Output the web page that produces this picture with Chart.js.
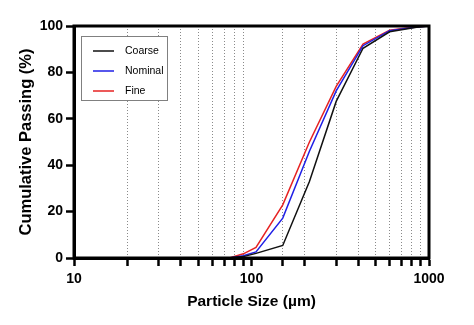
<!DOCTYPE html>
<html>
<head>
<meta charset="utf-8">
<script src="https://cdn.jsdelivr.net/npm/chart.js@4/dist/chart.umd.min.js"></script>
<style>
  html, body { margin: 0; padding: 0; background: #fff; }
  #wrap { width: 474px; height: 325px; position: relative; }
</style>
</head>
<body>
<div id="wrap"><canvas id="psdChart"></canvas></div>
<script>
// sieve sizes (µm) and cumulative passing (%)
const sizes   = [75, 90, 106, 150, 212, 300, 425, 600, 850, 1000];
const coarse  = [0, 0.6, 2.0, 5.4, 33, 67.5, 90.4, 97.5, 99.5, 100];
const nominal = [0, 1.0, 2.6, 17.2, 46, 72, 91.5, 98, 99.6, 100];
const fine    = [0, 1.8, 4.6, 22.9, 50, 74, 92.2, 98.2, 99.7, 100];

const seriesNames = ['Coarse', 'Nominal', 'Fine'];
const seriesColors = ['#111111', '#1f1fe6', '#e62222'];
const xLabels = [10, 100, 1000];
const yTicks = [0, 20, 40, 60, 80, 100];

const FONT = "'Liberation Sans', Arial, sans-serif";

function toPoints(vals) {
    return sizes.map((s, i) => ({ x: s, y: vals[i] }));
}

// frame on top of the lines + legend box inside the plot
const framePlugin = {
    id: 'frame',
    afterDatasetsDraw(chart) {
        const { ctx, chartArea: a } = chart;
        ctx.save();
        ctx.strokeStyle = '#000';
        ctx.lineWidth = 3;
        ctx.strokeRect(a.left, a.top, a.right - a.left, a.bottom - a.top);
        ctx.restore();
    },
    afterDraw(chart) {
        const ctx = chart.ctx;
        const bx = 81.5, by = 36.5, bw = 86, bh = 64;
        ctx.save();
        ctx.fillStyle = '#fff';
        ctx.fillRect(bx, by, bw, bh);
        ctx.strokeStyle = '#808080';
        ctx.lineWidth = 1;
        ctx.strokeRect(bx, by, bw, bh);
        ctx.font = '10.5px ' + FONT;
        ctx.textBaseline = 'middle';
        ctx.fillStyle = '#000';
        chart.data.datasets.forEach((ds, i) => {
            const y = 51 + i * 20;
            ctx.strokeStyle = ds.borderColor;
            ctx.lineWidth = 1.5;
            ctx.beginPath();
            ctx.moveTo(93, y);
            ctx.lineTo(114, y);
            ctx.stroke();
            ctx.fillText(ds.label, 125, y);
        });
        ctx.restore();
    }
};

const datasets = [coarse, nominal, fine].map((vals, i) => ({
    label: seriesNames[i],
    data: toPoints(vals),
    borderColor: seriesColors[i],
    backgroundColor: seriesColors[i],
    borderWidth: 1.5,
    pointRadius: 0,
    tension: 0,
    fill: false
}));

new Chart(document.getElementById('psdChart'), {
    type: 'line',
    data: { datasets: datasets },
    plugins: [framePlugin],
    options: {
        responsive: true,
        maintainAspectRatio: false,
        animation: false,
        layout: { padding: { top: 26, right: 45, left: 0, bottom: 0 } },
        plugins: {
            legend: { display: false },
            tooltip: { enabled: false }
        },
        scales: {
            x: {
                type: 'logarithmic',
                min: 10,
                max: 1000,
                afterFit(scale) { scale.height = 67; },
                border: { display: true, color: '#000', width: 3, dash: [1, 2] },
                grid: {
                    color: ctx => (ctx.tick && xLabels.includes(ctx.tick.value)) ? 'rgba(0,0,0,0)' : '#8a8a8a',
                    lineWidth: 1,
                    drawTicks: true,
                    tickLength: 8,
                    tickWidth: 2.5,
                    tickColor: '#000'
                },
                ticks: {
                    autoSkip: false,
                    maxRotation: 0,
                    padding: 5,
                    color: '#000',
                    font: { family: FONT, size: 14, weight: 'bold' },
                    callback: v => xLabels.includes(v) ? String(v) : ''
                },
                title: {
                    display: true,
                    text: 'Particle Size (µm)',
                    color: '#000',
                    font: { family: FONT, size: 15.5, weight: 'bold' },
                    padding: { top: 0, bottom: 14 }
                }
            },
            y: {
                type: 'linear',
                min: 0,
                max: 100,
                afterFit(scale) { scale.width = 74; },
                afterBuildTicks(scale) { scale.ticks = yTicks.map(v => ({ value: v })); },
                border: { display: true, color: '#000', width: 3 },
                grid: {
                    drawOnChartArea: false,
                    drawTicks: true,
                    tickLength: 8,
                    tickWidth: 2.5,
                    tickColor: '#000'
                },
                ticks: {
                    padding: 3,
                    color: '#000',
                    font: { family: FONT, size: 14, weight: 'bold' }
                },
                title: {
                    display: true,
                    text: 'Cumulative Passing (%)',
                    color: '#000',
                    font: { family: FONT, size: 16.5, weight: 'bold' },
                    padding: { top: 17, bottom: 0 }
                }
            }
        }
    }
});
</script>
</body>
</html>
